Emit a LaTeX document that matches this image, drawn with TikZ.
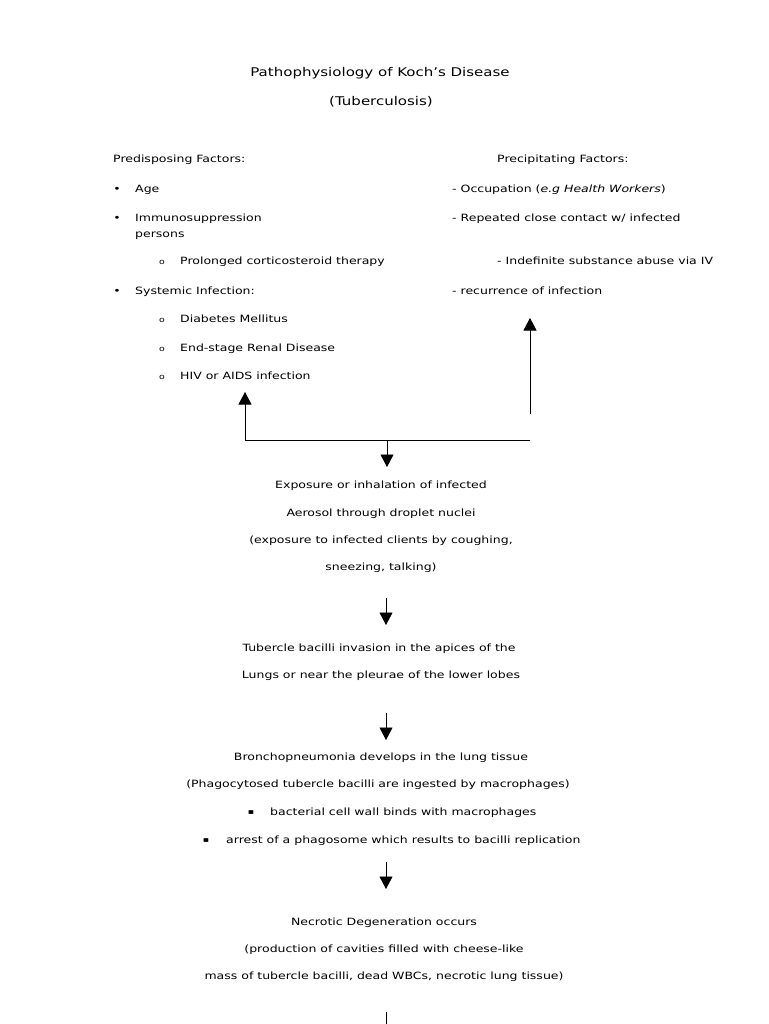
\documentclass[tikz,border=0pt]{standalone}
\usepackage{fontspec}
\setmainfont{DejaVu Sans}[FakeStretch=1.25]
\usetikzlibrary{arrows.meta}
\begin{document}
\begin{tikzpicture}[x=1pt,y=-1pt,
  txt/.style={anchor=base,inner sep=0pt,font=\fontsize{10}{12}\selectfont},
  ltxt/.style={txt,anchor=base west},
  head/.style={txt,font=\fontsize{12}{14}\selectfont},
  bul/.style={txt,font=\fontsize{7.5}{9}\selectfont},
  flow/.style={line width=0.9pt,-{Triangle[length=12.5pt,width=13pt]}},
  plain/.style={line width=0.9pt}]
\useasboundingbox[fill=white] (0,0) rectangle (768,1024);
% title
\node[head] (title) at (380,77) {Pathophysiology of Koch’s Disease};
\node[head] (tb) at (381,106) {(Tuberculosis)};
% predisposing factors
\node[ltxt] (pre) at (113,163) {Predisposing Factors:};
\foreach \y in {193, 222, 294}
    \node[txt] (dot\y) at (117,\y) {•};
\node[ltxt] (age) at (135,193) {Age};
\node[ltxt] (imm) at (135,222) {Immunosuppression};
\node[ltxt] (pers) at (135,237) {persons};
\node[ltxt] (sys) at (135,294) {Systemic Infection:};
\foreach \y/\t in {264/Prolonged corticosteroid therapy, 322/Diabetes Mellitus,
                   351/End-stage Renal Disease, 379/HIV or AIDS infection}
    {
    \node[bul] (o\y) at (162,\y) {o};
    \node[ltxt] (sub\y) at (180,\y) {\t};
    }
% precipitating factors
\node[ltxt] (prec) at (497,163) {Precipitating Factors:};
\node[ltxt] (occ) at (452,193) {- Occupation (\textit{e.g Health Workers})};
\node[ltxt] (rep) at (452,222) {- Repeated close contact w/ infected};
\node[ltxt] (ind) at (497,264) {- Indefinite substance abuse via IV};
\node[ltxt] (rec) at (452,294) {- recurrence of infection};
% exposure
\node[txt] (exp1) at (381,488) {Exposure or inhalation of infected};
\node[txt] (exp2) at (381,516) {Aerosol through droplet nuclei};
\node[txt] (exp3) at (381,543) {(exposure to infected clients by coughing,};
\node[txt] (exp4) at (381,570) {sneezing, talking)};
% invasion
\node[txt] (inv1) at (379,651) {Tubercle bacilli invasion in the apices of the};
\node[txt] (inv2) at (381,678) {Lungs or near the pleurae of the lower lobes};
% bronchopneumonia
\node[txt] (bro1) at (381,760) {Bronchopneumonia develops in the lung tissue};
\node[txt] (bro2) at (378,787) {(Phagocytosed tubercle bacilli are ingested by macrophages)};
\node[bul] (sq1) at (251,814) {▪};
\node[ltxt] (bro3) at (270,815) {bacterial cell wall binds with macrophages};
\node[bul] (sq2) at (206,842) {▪};
\node[ltxt] (bro4) at (226,843) {arrest of a phagosome which results to bacilli replication};
% necrosis
\node[txt] (nec1) at (384,925) {Necrotic Degeneration occurs};
\node[txt] (nec2) at (384,952) {(production of cavities filled with cheese-like};
\node[txt] (nec3) at (384,979) {mass of tubercle bacilli, dead WBCs, necrotic lung tissue)};
% connectors
\coordinate (jl) at (245,440);
\coordinate (jm) at (387,440);
\coordinate (jr) at (530,440);
\coordinate (rtop) at (530,318);
\coordinate (rbot) at (530,414);
\coordinate (ltop) at (245,392);
\draw[flow] (rbot) -- (rtop);
\draw[plain] (jr) -- (jl);
\draw[flow] (jl) -- (ltop);
\draw[flow] (jm) -- (387,467);
\draw[flow] (386,598) -- (386,625);
\draw[flow] (386,713) -- (386,740);
\draw[flow] (386,862) -- (386,889);
\draw[plain] (386,1012) -- (386,1024);
\end{tikzpicture}
\end{document}
